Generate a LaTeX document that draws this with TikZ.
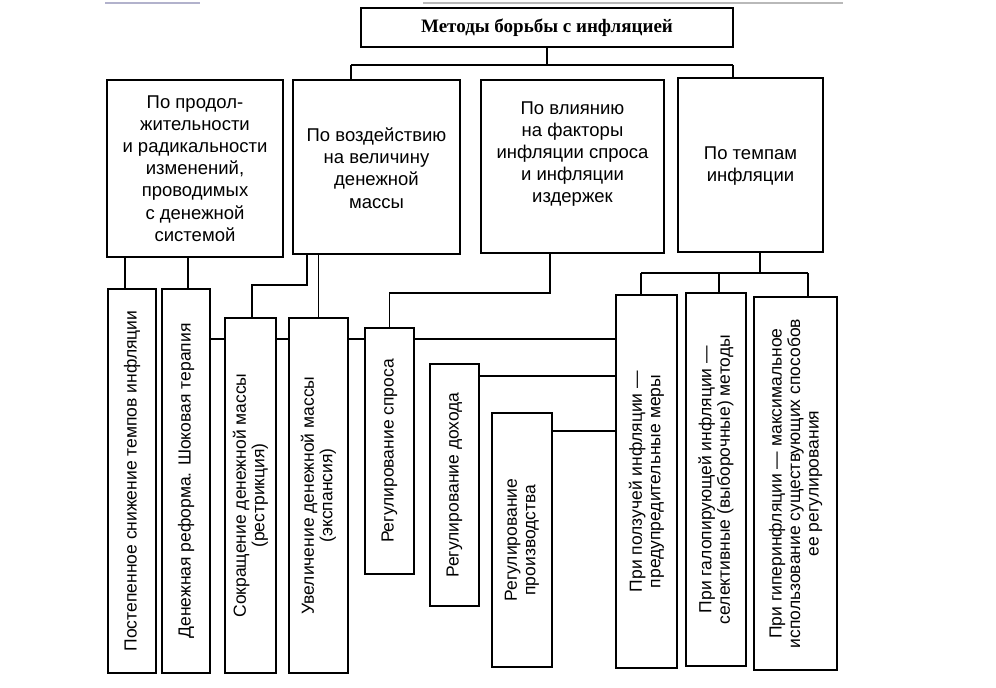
\documentclass[tikz,border=0pt]{standalone}
\usepackage{fontspec}
\setmainfont{Liberation Serif}
\newfontfamily\sansf{Liberation Sans}
\usetikzlibrary{backgrounds}
\begin{document}
\begin{tikzpicture}[x=1pt,y=-1pt,
  box/.style={draw, line width=2.1pt, fill=white, inner sep=0pt, outer sep=0pt},
  conn/.style={line width=1.2pt},
  cattext/.style={font=\sansf\fontsize{18.5}{22.2}\selectfont, align=center, inner sep=0pt},
  vtext/.style={font=\sansf\fontsize{17.5}{18.5}\selectfont, align=center, rotate=90, inner sep=0pt},
  titletext/.style={font=\bfseries\fontsize{19}{22}\selectfont},
  artifact/.style={line width=1.5pt, gray!55}
  ]
\useasboundingbox (0,0) rectangle (996,688);
% boxes
\node[box, minimum width=372pt, minimum height=39pt] (top) at (547,27.5) {};
\node[titletext] (ttop) at (top.center) {Методы борьбы с инфляцией};
\node[box, minimum width=176pt, minimum height=177pt] (c1) at (195,168.5) {};
\node[box, minimum width=167pt, minimum height=174pt] (c2) at (376.5,167) {};
\node[box, minimum width=183pt, minimum height=173pt] (c3) at (572.5,166.5) {};
\node[box, minimum width=145pt, minimum height=174pt] (c4) at (750.5,165) {};
\node[cattext] (tc1) at (195,168.5) {По продол-\\жительности\\и радикальности\\изменений,\\проводимых\\с денежной\\системой};
\node[cattext] (tc2) at (376.5,168) {По воздействию\\на величину\\денежной\\массы};
\node[cattext] (tc3) at (572.5,154) {По влиянию\\на факторы\\инфляции спроса\\и инфляции\\издержек};
\node[cattext] (tc4) at (750.5,166) {По темпам\\инфляции};

\node[box, minimum width=48pt, minimum height=384pt] (v1) at (132,481) {};
\node[box, minimum width=48pt, minimum height=384pt] (v2) at (186,481) {};
\node[box, minimum width=51pt, minimum height=355pt] (v3) at (250.5,495.5) {};
\node[box, minimum width=59pt, minimum height=355pt] (v4) at (318.5,495.5) {};
\node[box, minimum width=49pt, minimum height=246pt] (v5) at (389.5,451) {};
\node[box, minimum width=49pt, minimum height=242pt] (v6) at (454.5,485) {};
\node[box, minimum width=60pt, minimum height=254pt] (v7) at (522,540) {};
\node[box, minimum width=61pt, minimum height=373pt] (v8) at (646.5,481.5) {};
\node[box, minimum width=60pt, minimum height=373pt] (v9) at (716,479.5) {};
\node[box, minimum width=83pt, minimum height=373pt] (v10) at (795.5,483.5) {};

\node[vtext] (tv1) at (v1.center) {Постепенное снижение темпов инфляции};
\node[vtext] (tv2) at (v2.center) {Денежная реформа. Шоковая терапия};
\node[vtext] (tv3) at (v3.center) {Сокращение денежной массы\\(рестрикция)};
\node[vtext] (tv4) at (v4.center) {Увеличение денежной массы\\(экспансия)};
\node[vtext] (tv5) at (v5.center) {Регулирование спроса};
\node[vtext] (tv6) at (v6.center) {Регулирование дохода};
\node[vtext] (tv7) at (v7.center) {Регулирование\\производства};
\node[vtext] (tv8) at (v8.center) {При ползучей инфляции —\\предупредительные меры};
\node[vtext] (tv9) at (v9.center) {При галопирующей инфляции —\\селективные (выборочные) методы};
\node[vtext] (tv10) at (v10.center) {При гиперинфляции — максимальное\\использование существующих способов\\ее регулирования};

% helper coordinates
\coordinate (busL) at (351,65);
\coordinate (busR) at (733,65);
\coordinate (s1) at (125,0);
\coordinate (s2) at (188,0);
\coordinate (k3) at (307,285);
\coordinate (j3) at (252,285);
\coordinate (k5) at (550,293);
\coordinate (k8) at (760,273);
\coordinate (b8) at (641,273);
\coordinate (b9) at (719,273);
\coordinate (b10) at (808,273);
\coordinate (h1) at (0,339);
\coordinate (h2) at (0,376);
\coordinate (h3) at (0,431);

\begin{scope}[on background layer]
\fill[white] (0,0) rectangle (996,688);
\draw[artifact, blue!20!gray!50] (105,3) -- (200,3);
\draw[artifact] (423,3) -- (843,3);
\draw[conn] (top.south) -- (top.south |- busL);
\draw[conn] (busL) -- (busR);
\draw[conn] (busL) -- (busL |- c2.north);
\draw[conn] (busR) -- (busR |- c4.north);
\draw[conn] (c1.south -| s1) -- (v1.north -| s1);
\draw[conn] (c1.south -| s2) -- (v2.north -| s2);
\draw[conn] (c2.south -| k3) -- (k3) -- (j3) -- (j3 |- v3.north);
\draw[conn] (c2.south -| v4.north) -- (v4.north);
\draw[conn] (c3.south -| k5) -- (k5) -| (v5.north);
\draw[conn] (c4.south -| k8) -- (k8);
\draw[conn] (b8) -- (b10);
\draw[conn] (b8) -- (b8 |- v8.north);
\draw[conn] (b9) -- (b9 |- v9.north);
\draw[conn] (b10) -- (b10 |- v10.north);
\draw[conn] (v2.east |- h1) -- (v8.west |- h1);
\draw[conn] (v6.east |- h2) -- (v8.west |- h2);
\draw[conn] (v7.east |- h3) -- (v8.west |- h3);
\end{scope}
\end{tikzpicture}
\end{document}
